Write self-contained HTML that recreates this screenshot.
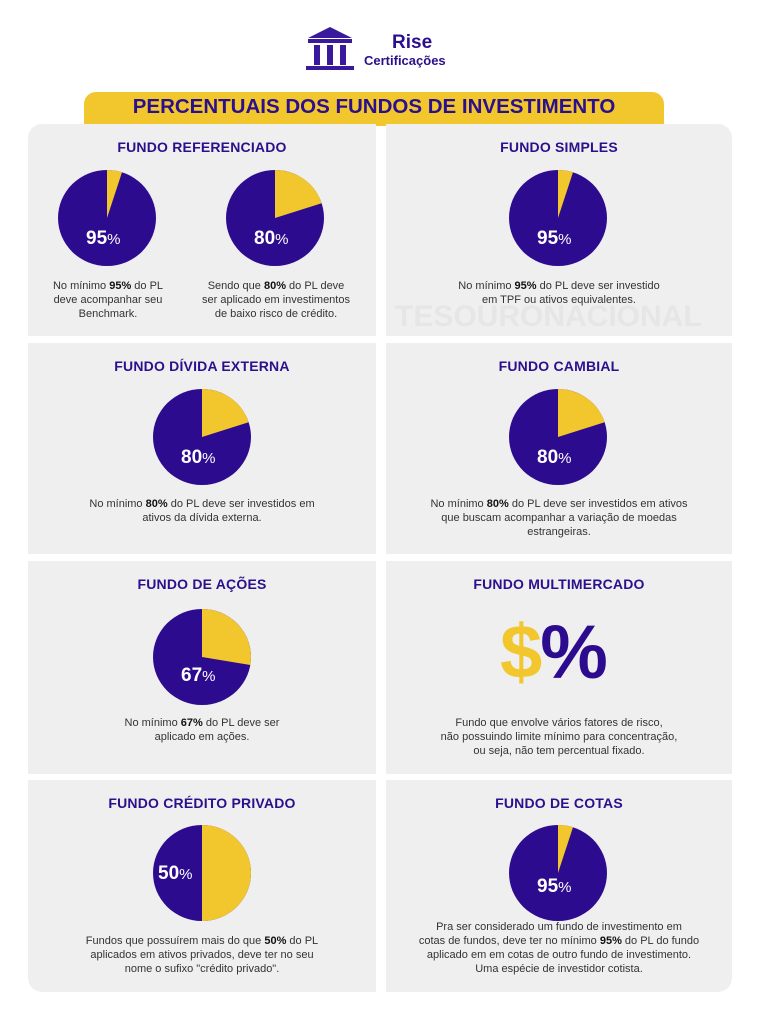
<!DOCTYPE html>
<html><head><meta charset="utf-8"><style>
*{margin:0;padding:0;box-sizing:border-box}
body{width:768px;height:1024px;background:#fff;position:relative;overflow:hidden;font-family:"Liberation Sans",sans-serif}
.card{position:absolute;background:#efefef;}
.t{position:absolute;width:100%;text-align:center;font-weight:bold;color:#2b0f8c;font-size:14px;letter-spacing:0.2px}
.d{position:absolute;text-align:center;color:#333;font-size:11px;line-height:14px;white-space:nowrap}
.d b{color:#111}
svg.p{position:absolute;overflow:visible}
.lbl{position:absolute;color:#fff;font-weight:bold;font-size:19px}
.lbl span{font-weight:normal;font-size:15px}
</style></head><body>
<svg style="position:absolute;left:305px;top:26px" width="50" height="46" viewBox="0 0 50 46">
<polygon points="25,1 47,12 3,12" fill="#3a1a9c"/>
<rect x="3" y="13" width="44" height="4" fill="#3a1a9c"/>
<rect x="9" y="19" width="6" height="20" fill="#3a1a9c"/>
<rect x="22" y="19" width="6" height="20" fill="#3a1a9c"/>
<rect x="35" y="19" width="6" height="20" fill="#3a1a9c"/>
<rect x="1" y="40" width="48" height="4" fill="#3a1a9c"/>
</svg>
<div style="position:absolute;left:392px;top:32px;font-weight:bold;color:#2b0f8c;font-size:19px">Rise</div>
<div style="position:absolute;left:364px;top:53px;font-weight:bold;color:#2b0f8c;font-size:13px">Certificações</div>
<div style="position:absolute;left:84px;top:92px;width:580px;height:34px;background:#f2c72e;border-radius:12px 12px 0 0"></div>
<div style="position:absolute;left:84px;top:95px;width:580px;text-align:center;font-weight:bold;color:#2b0f8c;font-size:20.5px">PERCENTUAIS DOS FUNDOS DE INVESTIMENTO</div>

<div class="card" style="left:28px;top:124px;width:348px;height:212px;border-radius:14px 0 0 0"></div>
<div class="card" style="left:386px;top:124px;width:346px;height:212px;border-radius:0 14px 0 0"></div>
<div class="card" style="left:28px;top:343px;width:348px;height:211px"></div>
<div class="card" style="left:386px;top:343px;width:346px;height:211px"></div>
<div class="card" style="left:28px;top:561px;width:348px;height:213px"></div>
<div class="card" style="left:386px;top:561px;width:346px;height:213px"></div>
<div class="card" style="left:28px;top:780px;width:348px;height:212px;border-radius:0 0 0 14px"></div>
<div class="card" style="left:386px;top:780px;width:346px;height:212px;border-radius:0 0 14px 0"></div>
<div style="position:absolute;left:395px;top:300px;color:#e6e6e6;font-weight:bold;font-size:30px">TESOURONACIONAL</div>

<div class="t" style="left:28px;width:348px;top:139px">FUNDO REFERENCIADO</div>
<div class="t" style="left:386px;width:346px;top:139px">FUNDO SIMPLES</div>
<div class="t" style="left:28px;width:348px;top:358px">FUNDO DÍVIDA EXTERNA</div>
<div class="t" style="left:386px;width:346px;top:358px">FUNDO CAMBIAL</div>
<div class="t" style="left:28px;width:348px;top:576px">FUNDO DE AÇÕES</div>
<div class="t" style="left:386px;width:346px;top:576px">FUNDO MULTIMERCADO</div>
<div class="t" style="left:28px;width:348px;top:795px">FUNDO CRÉDITO PRIVADO</div>
<div class="t" style="left:386px;width:346px;top:795px">FUNDO DE COTAS</div>

<svg class="p" style="left:107px;top:218px" width="1" height="1"><ellipse rx="49" ry="48" fill="#2d0b8f"/><path d="M0,0 L0,-48 A49,48 0 0 1 15,-45.7 Z" fill="#f2c72e"/></svg>
<svg class="p" style="left:275px;top:218px" width="1" height="1"><ellipse rx="49" ry="48" fill="#2d0b8f"/><path d="M0,0 L0,-48 A49,48 0 0 1 46.6,-14.8 Z" fill="#f2c72e"/></svg>
<svg class="p" style="left:558px;top:218px" width="1" height="1"><ellipse rx="49" ry="48" fill="#2d0b8f"/><path d="M0,0 L0,-48 A49,48 0 0 1 15,-45.7 Z" fill="#f2c72e"/></svg>
<svg class="p" style="left:202px;top:437px" width="1" height="1"><ellipse rx="49" ry="48" fill="#2d0b8f"/><path d="M0,0 L0,-48 A49,48 0 0 1 46.6,-14.8 Z" fill="#f2c72e"/></svg>
<svg class="p" style="left:558px;top:437px" width="1" height="1"><ellipse rx="49" ry="48" fill="#2d0b8f"/><path d="M0,0 L0,-48 A49,48 0 0 1 46.6,-14.8 Z" fill="#f2c72e"/></svg>
<svg class="p" style="left:202px;top:657px" width="1" height="1"><ellipse rx="49" ry="48" fill="#2d0b8f"/><path d="M0,0 L0,-48 A49,48 0 0 1 48.3,8 Z" fill="#f2c72e"/></svg>
<svg class="p" style="left:202px;top:873px" width="1" height="1"><ellipse rx="49" ry="48" fill="#2d0b8f"/><path d="M0,0 L0,-48 A49,48 0 0 1 0,48 Z" fill="#f2c72e"/></svg>
<svg class="p" style="left:558px;top:873px" width="1" height="1"><ellipse rx="49" ry="48" fill="#2d0b8f"/><path d="M0,0 L0,-48 A49,48 0 0 1 15,-45.7 Z" fill="#f2c72e"/></svg>

<div class="lbl" style="left:86px;top:228px">95<span>%</span></div>
<div class="lbl" style="left:254px;top:228px">80<span>%</span></div>
<div class="lbl" style="left:537px;top:228px">95<span>%</span></div>
<div class="lbl" style="left:181px;top:447px">80<span>%</span></div>
<div class="lbl" style="left:537px;top:447px">80<span>%</span></div>
<div class="lbl" style="left:181px;top:665px">67<span>%</span></div>
<div class="lbl" style="left:158px;top:863px">50<span>%</span></div>
<div class="lbl" style="left:537px;top:876px">95<span>%</span></div>

<div style="position:absolute;left:500px;top:610px;font-weight:bold;font-size:76px;line-height:86px;letter-spacing:-2px"><span style="color:#f2c72e">$</span><span style="color:#2d0b8f">%</span></div>

<div class="d" style="left:38px;width:140px;top:279px">No mínimo <b>95%</b> do PL<br>deve acompanhar seu<br>Benchmark.</div>
<div class="d" style="left:185px;width:182px;top:279px">Sendo que <b>80%</b> do PL deve<br>ser aplicado em investimentos<br>de baixo risco de crédito.</div>
<div class="d" style="left:386px;width:346px;top:279px">No mínimo <b>95%</b> do PL deve ser investido<br>em TPF ou ativos equivalentes.</div>
<div class="d" style="left:28px;width:348px;top:497px">No mínimo <b>80%</b> do PL deve ser investidos em<br>ativos da dívida externa.</div>
<div class="d" style="left:386px;width:346px;top:497px">No mínimo <b>80%</b> do PL deve ser investidos em ativos<br>que buscam acompanhar a variação de moedas<br>estrangeiras.</div>
<div class="d" style="left:28px;width:348px;top:716px">No mínimo <b>67%</b> do PL deve ser<br>aplicado em ações.</div>
<div class="d" style="left:386px;width:346px;top:716px">Fundo que envolve vários fatores de risco,<br>não possuindo limite mínimo para concentração,<br>ou seja, não tem percentual fixado.</div>
<div class="d" style="left:28px;width:348px;top:934px">Fundos que possuírem mais do que <b>50%</b> do PL<br>aplicados em ativos privados, deve ter no seu<br>nome o sufixo "crédito privado".</div>
<div class="d" style="left:386px;width:346px;top:920px">Pra ser considerado um fundo de investimento em<br>cotas de fundos, deve ter no mínimo <b>95%</b> do PL do fundo<br>aplicado em em cotas de outro fundo de investimento.<br>Uma espécie de investidor cotista.</div>
</body></html>
